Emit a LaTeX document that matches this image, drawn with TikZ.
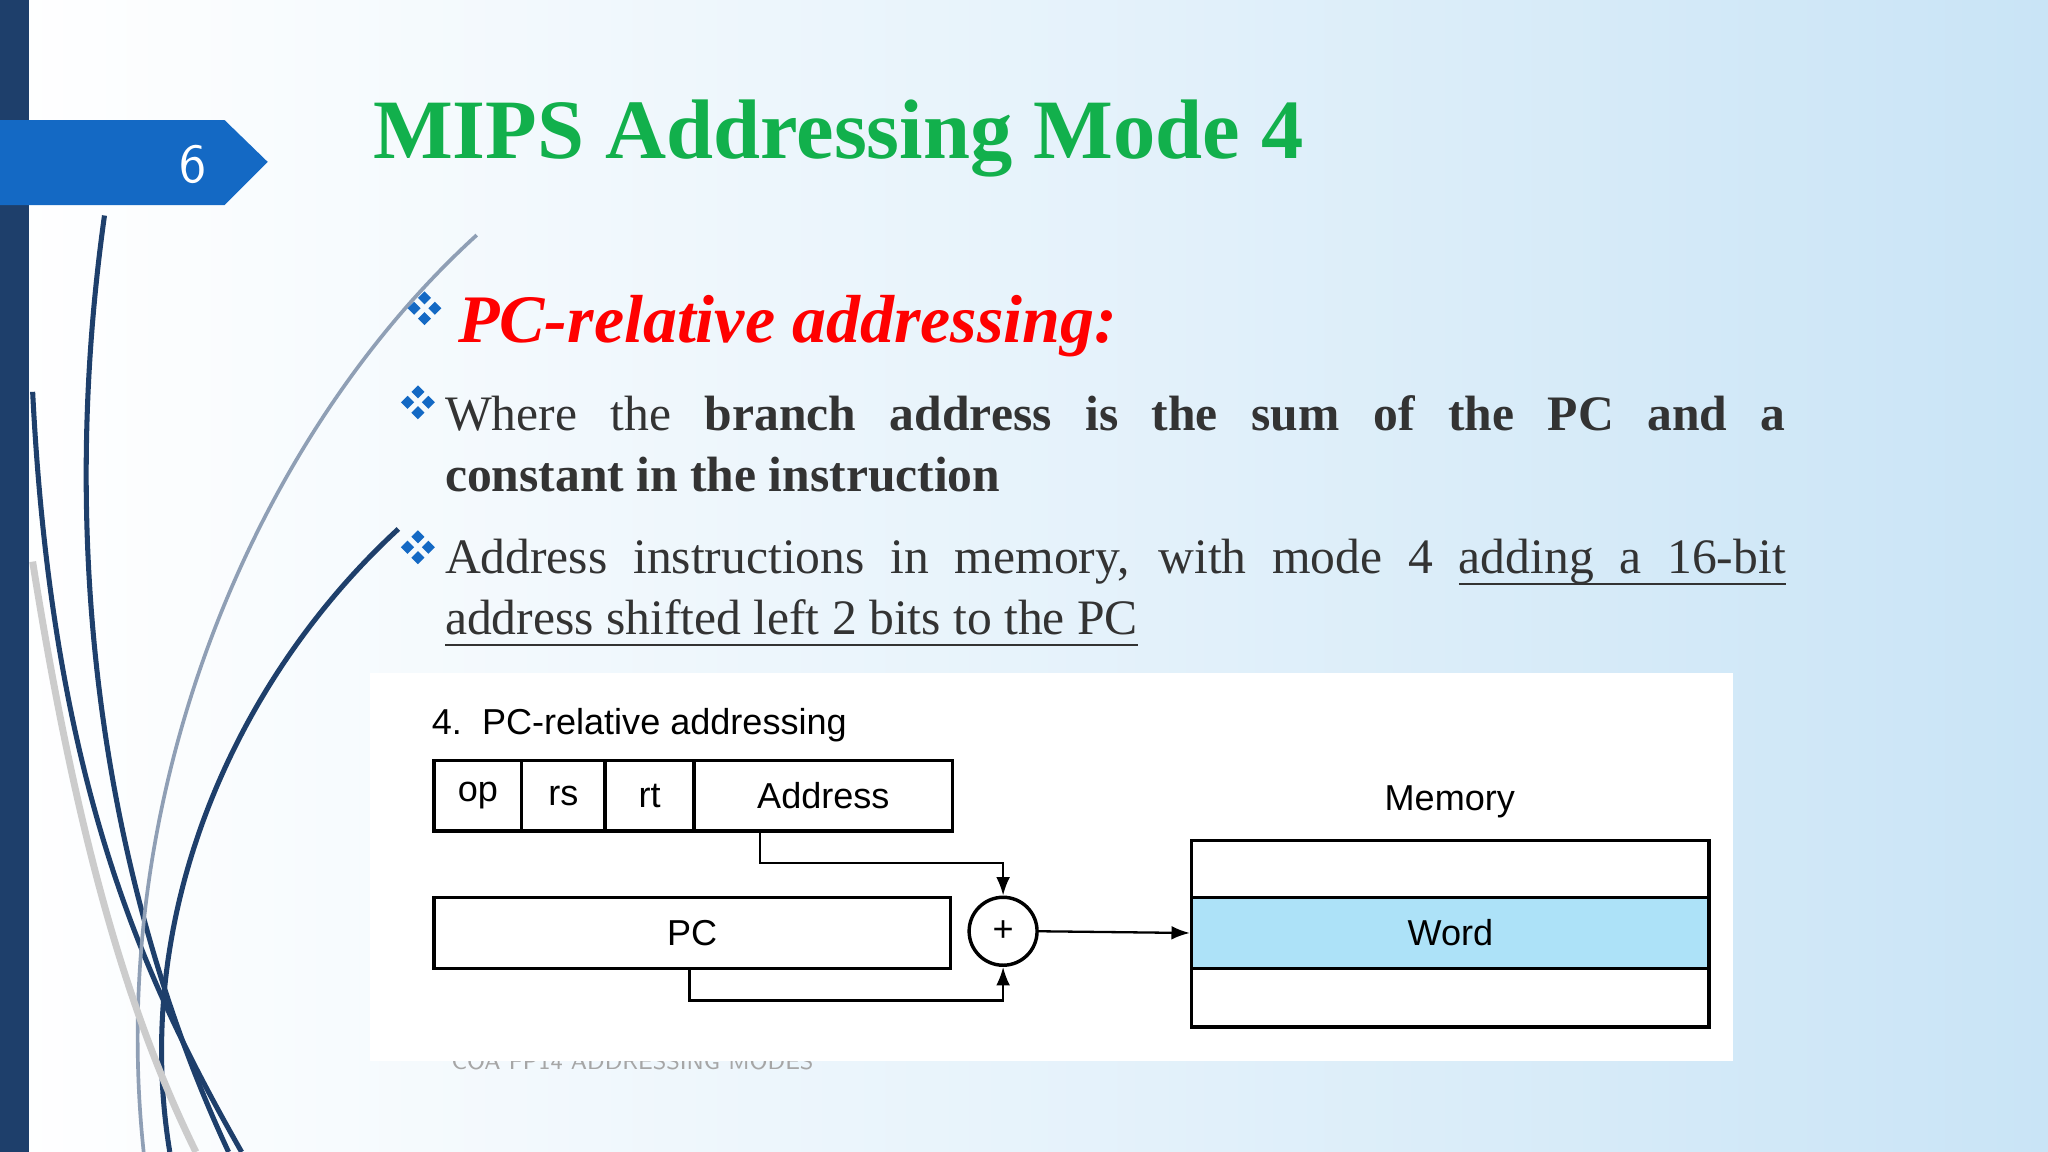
\documentclass[tikz,border=0pt]{standalone}
\usepackage{fontspec}
\setmainfont{Liberation Serif}
\newfontfamily\arialf{Liberation Sans}
\definecolor{bar}{HTML}{1E3F6B}
\definecolor{tab}{HTML}{1469C4}
\definecolor{ttl}{HTML}{12B04C}
\definecolor{bodyc}{HTML}{333333}
\definecolor{wordc}{HTML}{ADE2F8}
\definecolor{bgr}{HTML}{C9E4F6}
\tikzset{fld/.style={draw,line width=0.75pt,inner sep=0pt},
 lbl/.style={font=\arialf\fontsize{7.85}{9}\selectfont,text=black},
 con/.style={line width=0.5pt},
 arr/.style={con,-{Latex[length=4pt,width=3pt]}},
 curve/.style={line width=1.1pt,bar}}
\usetikzlibrary{arrows.meta}
\newcommand{\uw}[1]{\setbox0\hbox{#1}\rlap{\rule[-2.6pt]{\wd0}{0.45pt}}\box0}
\newcommand{\us}{\leaders\hrule height -2.15pt depth 2.6pt\hskip\fontdimen2\font plus\fontdimen3\font minus\fontdimen4\font\relax}
\newcommand{\bul}[2]{\begin{scope}[shift={(#1,#2)}]
\foreach \dx/\dy in {0/-8,-8/0,8/0,0/8}{\fill[tab] (\dx-5,\dy) -- (\dx,\dy-5) -- (\dx+5,\dy) -- (\dx,\dy+5) -- cycle;}
\end{scope}}
\begin{document}
\begin{tikzpicture}[x=0.01cm,y=-0.01cm]
\useasboundingbox (0,0) rectangle (1568,882);
\shade[left color=white,right color=bgr,middle color=bgr!45] (0,0) rectangle (1568,882);
% curves
\draw[curve] (80,165) .. controls (40,450) and (90,700) .. (175,882);
\draw[curve] (25,300) .. controls (40,600) and (110,750) .. (185,882);
\draw[curve] (305,405) .. controls (180,520) and (100,700) .. (130,882);
\draw[line width=0.8pt,bar!50] (365,180) .. controls (200,330) and (80,600) .. (110,882);
\draw[line width=1.5pt,gray!40] (25,430) .. controls (60,650) and (100,780) .. (150,882);
\fill[bar] (0,0) rectangle (22,882);
\fill[tab] (0,92) -- (172,92) -- (205,124) -- (172,157) -- (0,157) -- cycle;
\node[text=white,font=\fontsize{12}{14}\selectfont\sffamily] (pg) at (148,126) {6};
\node[anchor=west,text=ttl,font=\bfseries\fontsize{18.4}{22}\selectfont,inner sep=0] (title) at (285,106) {MIPS Addressing Mode 4};
\bul{325}{236}
\node[anchor=west,text=red,font=\bfseries\itshape\fontsize{14.8}{17}\selectfont,inner sep=0] (sub) at (350,250) {PC-relative addressing:};
\bul{320}{308}
\node[anchor=north west,inner sep=0,text=bodyc,font=\fontsize{10.8}{13.3}\selectfont,text width=10.26cm,align=justify] (p1) at (340,302) {Where the \textbf{branch address is the sum of the PC and a}\linebreak\textbf{constant in the instruction}};
\bul{320}{419}
\node[anchor=north west,inner sep=0,text=bodyc,font=\fontsize{10.8}{13.3}\selectfont,text width=10.26cm,align=justify] (p2) at (340,412) {Address instructions in memory, with mode 4 \uw{adding}\us\uw{a}\us\uw{16-bit}\linebreak\uw{address}\us\uw{shifted}\us\uw{left}\us\uw{2}\us\uw{bits}\us\uw{to}\us\uw{the}\us\uw{PC}\hfill\null};
\node[text=gray!70,font=\sffamily\fontsize{5}{6}\selectfont,anchor=west,inner sep=0] (foot) at (345,813) {COA FP14 ADDRESSING MODES};
\fill[white] (283,515) rectangle (1327,812);
\node[lbl,anchor=west,inner sep=0] (cap) at (330,555) {4.\ \ PC-relative addressing};
\node[fld,minimum width=0.67cm,minimum height=0.54cm,anchor=north west,lbl] (op) at (331,581) {op};
\node[fld,minimum width=0.64cm,minimum height=0.54cm,anchor=north west,lbl] (rs) at (398,581) {rs};
\node[fld,minimum width=0.68cm,minimum height=0.54cm,anchor=north west,lbl] (rt) at (462,581) {rt};
\node[fld,minimum width=1.98cm,minimum height=0.54cm,anchor=north west,lbl] (ad) at (530,581) {Address};
\node[fld,minimum width=3.95cm,minimum height=0.54cm,anchor=north west,lbl] (pc) at (331,686) {PC};
\node[draw,circle,line width=0.75pt,minimum size=0.52cm,inner sep=0,lbl] (plus) at (768,713) {+};
\node[lbl] (mem) at (1110,614) {Memory};
\node[fld,minimum width=3.96cm,minimum height=0.44cm,anchor=north west] (m1) at (911,642) {};
\node[fld,fill=wordc,minimum width=3.96cm,minimum height=0.54cm,anchor=north west,lbl] (word) at (911,686) {Word};
\node[fld,minimum width=3.96cm,minimum height=0.45cm,anchor=north west] (m3) at (911,740) {};
\coordinate (a1) at (582,661); \coordinate (a2) at (768,661);
\coordinate (b1) at (528,766); \coordinate (b2) at (768,766);
\draw[arr] (ad.south -| a1) -- (a1) -- (a2) -- (plus.north);
\draw[arr] (pc.south -| b1) -- (b1) -- (b2) -- (plus.south);
\draw[arr] (plus.east) -- (word.west);
\end{tikzpicture}
\end{document}
